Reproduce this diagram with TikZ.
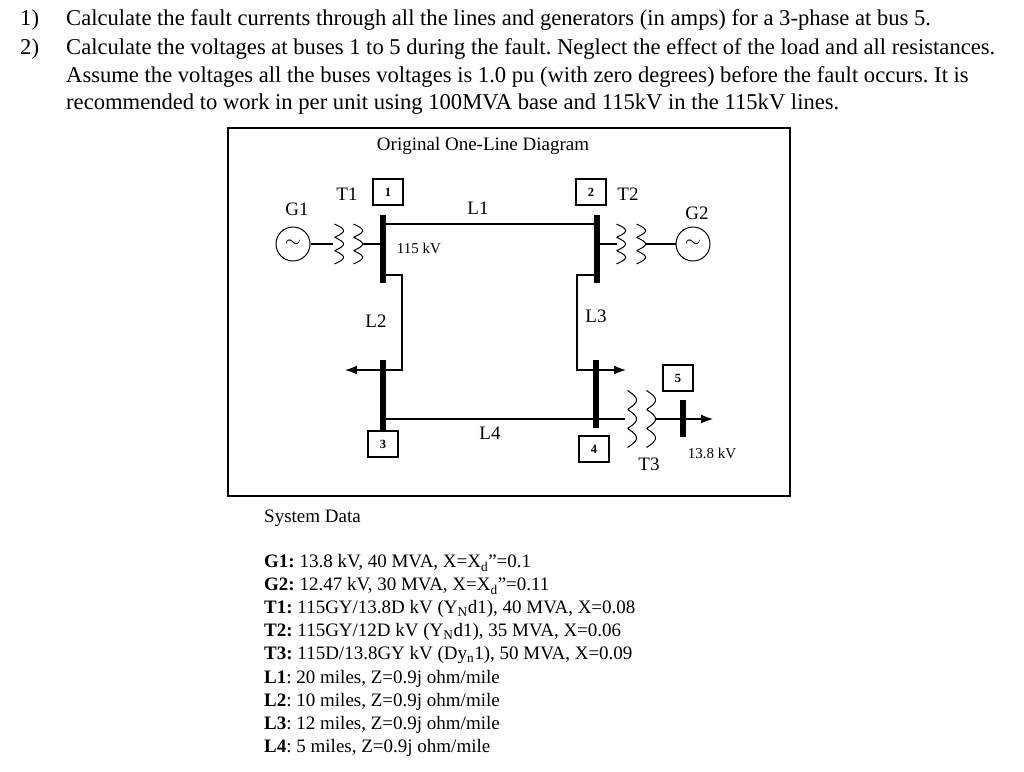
\documentclass[tikz,border=0pt]{standalone}
\usepackage{fontspec}
\setmainfont{Liberation Serif}
\usetikzlibrary{arrows.meta}
\begin{document}
\frenchspacing
\begin{tikzpicture}[x=1pt,y=-1pt,
  bar/.style={line width=6pt},
  ln/.style={line width=1.2pt},
  busbox/.style={draw,line width=1.2pt,minimum width=30pt,minimum height=26pt,font=\fontsize{12.5}{12.5}\selectfont\bfseries,inner sep=0pt},
  lbl/.style={font=\fontsize{19}{19}\selectfont,inner sep=0pt},
  gen/.style={draw,circle,line width=1pt,minimum size=34pt,inner sep=0pt,font=\fontsize{22}{22}\selectfont},
  coil/.style={line width=1pt},
  ar/.style={ln,-{Latex[length=12pt,width=9pt]}}]
\useasboundingbox (0,0) rectangle (1024,771);
% top text
\begin{scope}[every node/.style={anchor=west,inner sep=0pt,font=\fontsize{22.6}{22.6}\selectfont}]
\node (n1) at (20,20) {1)};
\node (t1) at (66,20) {Calculate the fault currents through all the lines and generators (in amps) for a 3-phase at bus 5.};
\node (n2) at (20,49) {2)};
\node (t2) at (66,49) {Calculate the voltages at buses 1 to 5 during the fault. Neglect the effect of the load and all resistances.};
\node (t3) at (66,77) {Assume the voltages all the buses voltages is 1.0 pu (with zero degrees) before the fault occurs. It is};
\node (t4) at (66,104) {recommended to work in per unit using 100MVA base and 115kV in the 115kV lines.};
\end{scope}
% frame
\draw[line width=1.2pt] (228,128) rectangle (790,496);
\node[lbl] (title) at (483,146) {Original One-Line Diagram};
% buses
\coordinate (b1t) at (383,215); \coordinate (b1b) at (383,283);
\coordinate (b2t) at (597,215); \coordinate (b2b) at (597,283);
\coordinate (b3t) at (383,360); \coordinate (b3b) at (383,431);
\coordinate (b4t) at (596,360); \coordinate (b4b) at (596,428);
\coordinate (b5t) at (683,400); \coordinate (b5b) at (683,437);
\draw[bar] (b1t) -- (b1b); \draw[bar] (b2t) -- (b2b);
\draw[bar] (b3t) -- (b3b); \draw[bar] (b4t) -- (b4b);
\draw[bar] (b5t) -- (b5b);
\node[busbox] (B1) at (388,192) {1};
\node[busbox] (B2) at (591,192) {2};
\node[busbox] (B3) at (383,444) {3};
\node[busbox] (B4) at (594,449) {4};
\node[busbox] (B5) at (678,378) {5};
% lines
\draw[ln] (383,224) -- (597,224);
\draw[ln] (383,275) -- (402,275) -- (402,370) -- (383,370);
\draw[ar] (383,370) -- (345,370);
\draw[ln] (597,275) -- (577,275) -- (577,370) -- (596,370);
\draw[ar] (596,370) -- (626,370);
\draw[ln] (383,419) -- (625,419);
\draw[ar] (655,419) -- (713,419);
% generators
\node[gen] (G1) at (293,244) {$\sim$};
\node[gen] (G2) at (693,244) {$\sim$};
\draw[ln] (G1.east) -- (333,244);
\draw[ln] (363,244) -- (383,244);
\draw[ln] (597,244) -- (617,244);
\draw[ln] (645,244) -- (G2.west);
% coils
\foreach \cx/\cy/\h in {339/244/40, 358/244/40, 621/244/40, 641/244/40, 632/419/57, 651/419/57}{
  \draw[coil] plot[domain=-1:1,samples=60,smooth] ({\cx+9*abs(sin(deg(3*pi*(\x+1)/2)))-4.5},{\cy+\x*\h/2});
}
% labels
\node[lbl] (lG1) at (297,209) {G1};
\node[lbl] (lT1) at (347,194) {T1};
\node[lbl] (lL1) at (478,208) {L1};
\node[lbl,font=\fontsize{15}{15}\selectfont] (l115) at (419,248) {115 kV};
\node[lbl] (lT2) at (628,194) {T2};
\node[lbl] (lG2) at (697,213) {G2};
\node[lbl] (lL2) at (376,321) {L2};
\node[lbl] (lL3) at (596,316) {L3};
\node[lbl] (lL4) at (490,433) {L4};
\node[lbl] (lT3) at (649,464) {T3};
\node[lbl,font=\fontsize{15}{15}\selectfont] (l138) at (712,453) {13.8 kV};
% data
\node[lbl,anchor=west] (sd) at (264,518) {System Data};
\begin{scope}[every node/.style={anchor=west,inner sep=0pt,font=\fontsize{19}{19}\selectfont}]
\node (d1) at (264,563) {\textbf{G1:} 13.8 kV, 40 MVA, X=X$_\mathrm{d}$''=0.1};
\node (d2) at (264,586) {\textbf{G2:} 12.47 kV, 30 MVA, X=X$_\mathrm{d}$''=0.11};
\node (d3) at (264,609) {\textbf{T1:} 115GY/13.8D kV (Y$_\mathrm{N}$d1), 40 MVA, X=0.08};
\node (d4) at (264,632) {\textbf{T2:} 115GY/12D kV (Y$_\mathrm{N}$d1), 35 MVA, X=0.06};
\node (d5) at (264,655) {\textbf{T3:} 115D/13.8GY kV (Dy$_\mathrm{n}$1), 50 MVA, X=0.09};
\node (d6) at (264,679) {\textbf{L1}: 20 miles, Z=0.9j ohm/mile};
\node (d7) at (264,702) {\textbf{L2}: 10 miles, Z=0.9j ohm/mile};
\node (d8) at (264,725) {\textbf{L3}: 12 miles, Z=0.9j ohm/mile};
\node (d9) at (264,748) {\textbf{L4}: 5 miles, Z=0.9j ohm/mile};
\end{scope}
\end{tikzpicture}
\end{document}
